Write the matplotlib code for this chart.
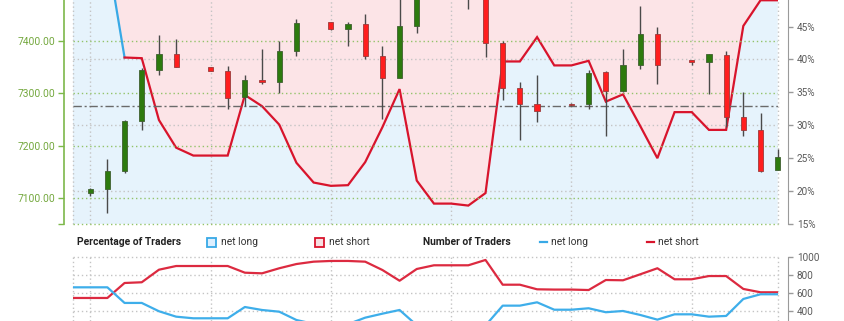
import matplotlib
matplotlib.use('Agg')
import matplotlib.pyplot as plt
from matplotlib.patches import Rectangle
from matplotlib.lines import Line2D
import numpy as np

plt.rcParams['font.family'] = ['Roboto', 'DejaVu Sans']

# ---------------- data ----------------
n_bars = 42
opens  = [None, 7110, 7118, 7151, 7247, 7344, 7375, None, 7349, 7343,
          7293, 7325, 7322, 7380, None, 7435, 7422, 7431, 7370, 7329,
          7428, None, 7505, 7530, 7505, 7396, 7309, 7280, None, 7279,
          7279, 7340, 7304, 7354, 7413, None, 7363, 7359, 7373, 7255,
          7230, 7153]
highs  = [None, 7119, 7174, 7249, 7348, 7410, 7403, None, 7350, 7352,
          7335, 7384, 7399, 7441, None, 7436, 7436, 7451, 7389, 7495,
          7520, None, 7545, 7550, 7515, 7400, 7321, 7335, None, 7281,
          7344, 7343, 7384, 7466, 7427, None, 7364, 7374, 7381, 7302,
          7263, 7194]
lows   = [None, 7104, 7071, 7148, 7230, 7335, 7349, None, 7342, 7269,
          7276, 7317, 7300, 7371, None, 7421, 7390, 7365, 7251, 7328,
          7415, None, 7490, 7460, 7368, 7286, 7211, 7244, None, 7276,
          7269, 7219, 7303, 7346, 7317, None, 7354, 7298, 7235, 7218,
          7149, 7153]
closes = [None, 7118, 7152, 7247, 7344, 7375, 7350, None, 7343, 7291,
          7325, 7322, 7380, 7433, None, 7422, 7431, 7370, 7329, 7428,
          7505, None, 7530, 7510, 7396, 7309, 7279, 7265, None, 7277,
          7339, 7305, 7354, 7413, 7354, None, 7359, 7374, 7255, 7230,
          7152, 7179]

net_long_pct = [56.0, 56.0, 56.0, 40.3, 40.2, 30.8, 26.6, 25.4, 25.4, 25.4,
                34.6, 32.9, 30.1, 24.3, 21.3, 20.8, 20.9, 24.4, 29.7, 35.5,
                21.6, 18.1, 18.1, 17.8, 19.7, 39.7, 39.7, 43.4, 39.1, 39.1,
                39.8, 33.6, 34.7, 29.9, 25.0, 32.0, 32.0, 29.3, 29.3, 45.1,
                49.0, 49.0]

traders_short = [544, 544, 544, 710, 718, 857, 898, 898, 898, 898,
                 824, 817, 873, 920, 946, 954, 954, 946, 854, 735,
                 865, 906, 906, 906, 965, 691, 691, 640, 637, 637,
                 632, 743, 740, 806, 873, 751, 751, 787, 787, 644,
                 607, 607]
traders_long = [662, 662, 662, 489, 489, 397, 337, 319, 319, 319,
                444, 411, 392, 300, 257, 252, 254, 326, 370, 411,
                242, 200, 200, 196, 239, 459, 459, 496, 414, 414,
                430, 386, 400, 356, 304, 363, 363, 337, 345, 533,
                585, 585]

price_ticks = [7100, 7200, 7300, 7400]
pct_ticks = [15, 20, 25, 30, 35, 40, 45]
count_ticks = [400, 600, 800, 1000]
ref_price = 7275

# ---------------- styling ----------------
W, H = 845, 321
GREEN_TXT = '#74a83e'
GREEN_AX = '#7db84a'
GREEN_GRID = '#93c36a'
GRAY_GRID = '#c4c4c4'
GRAY_AX = '#9a9a9a'
GRAY_TXT = '#5a5a5a'
RED = '#d8142c'
BLUE = '#38a9e6'
PINK_FILL = '#fce4e7'
BLUE_FILL = '#e6f3fc'
UP = '#2d7a0e'
UP_EDGE = '#3f5f30'
DOWN = '#ff1e1e'
DOWN_EDGE = '#9c3a3a'
DOT = (0, (1, 2))

fig = plt.figure(figsize=(W / 100, H / 100), dpi=100)

left_px, right_px = 73, 777.7
top_bottom_px = 224
axS = fig.add_axes([left_px / W, 1 - top_bottom_px / H,
                    (right_px - left_px) / W, top_bottom_px / H])
axC = axS.twinx()

x = np.arange(n_bars)
pct = np.array(net_long_pct)
ylo, yhi = 15, 49.04

# sentiment fill
axS.fill_between(x, pct, 100, color=PINK_FILL, lw=0, zorder=1)
axS.fill_between(x, 0, pct, color=BLUE_FILL, lw=0, zorder=1)

# gridlines
for g in [20, 30, 40]:
    axS.axhline(g, color=GRAY_GRID, lw=1, ls=DOT, zorder=1.5)
for gx in list(np.arange(1, n_bars, 7)) + [0, n_bars - 1]:
    axS.axvline(gx, color=GRAY_GRID, lw=1, ls=DOT, zorder=1.5, clip_on=False)

# sentiment line: blue while net long is majority at segment start
axS.plot(x[:4], pct[:4], color=BLUE, lw=1.6, zorder=3, solid_joinstyle='miter')
axS.plot(x[3:], pct[3:], color=RED, lw=1.6, zorder=3, solid_joinstyle='miter')

axS.set_xlim(0, n_bars - 1)
axS.set_ylim(ylo, yhi)

# price axis (twin, drawn above)
axC.set_ylim(7050.4, 7477.6)
axC.patch.set_visible(False)
for p in price_ticks:
    axC.axhline(p, color=GREEN_GRID, lw=1, ls=DOT, zorder=1)
axC.axhline(7050.4, color=GREEN_GRID, lw=1, ls=DOT, zorder=1, clip_on=False)
axC.axhline(ref_price, color='#6a6a6a', lw=1, ls=(0, (6, 2, 1.5, 2)), zorder=2)

bw = 0.30
for i in range(n_bars):
    o, h, l, c = opens[i], highs[i], lows[i], closes[i]
    if o is None:
        continue
    up = c >= o
    axC.vlines(i, l, h, color='#4a4a4a', lw=1, zorder=3, clip_on=False)
    body = max(abs(c - o), 1.2)
    axC.bar(i, body, bottom=min(o, c), width=bw,
            color=UP if up else DOWN, edgecolor=UP_EDGE if up else DOWN_EDGE,
            linewidth=0.6, zorder=4, clip_on=False)

# axes styling
for sp in axS.spines.values():
    sp.set_visible(False)
for sp in axC.spines.values():
    sp.set_visible(False)
axS.spines['right'].set_visible(True)
axS.spines['right'].set_position(('outward', 7.2))
axS.spines['right'].set_color(GRAY_AX)
axS.yaxis.tick_right()
axS.set_yticks(pct_ticks)
axS.set_yticklabels([f'{t}%' for t in pct_ticks])
axS.tick_params(axis='y', colors=GRAY_AX, labelcolor=GRAY_TXT, length=3.5,
                width=1, pad=3, labelsize=7.2)
axS.set_xticks([])

axC.spines['left'].set_visible(True)
axC.spines['left'].set_position(('outward', 6.5))
axC.spines['left'].set_color(GREEN_AX)
axC.spines['left'].set_linewidth(1.2)
axC.yaxis.tick_left()
axC.set_yticks(price_ticks)
axC.set_yticklabels([f'{t:.2f}' for t in price_ticks])
axC.set_yticks([7050.4], minor=True)
axC.tick_params(axis='y', which='both', colors=GREEN_AX, labelcolor=GREEN_TXT,
                length=4, width=1, pad=2.5, labelsize=7.4)
axC.set_xticks([])

# ---------------- bottom panel ----------------
bot_top_px = 256.8
axB = fig.add_axes([left_px / W, 0, (right_px - left_px) / W, 1 - bot_top_px / H])
axB.set_xlim(0, n_bars - 1)
axB.set_ylim(289, 1000)
for g in count_ticks:
    axB.axhline(g, color=GRAY_GRID, lw=1, ls=DOT, zorder=1, clip_on=False)
for gx in list(np.arange(1, n_bars, 7)) + [0, n_bars - 1]:
    axB.axvline(gx, color=GRAY_GRID, lw=1, ls=DOT, zorder=1, clip_on=False)
axB.plot(x, traders_short, color='#dc2a40', lw=1.6, zorder=3)
axB.plot(x, traders_long, color='#3eaeea', lw=1.6, zorder=3)
for sp in axB.spines.values():
    sp.set_visible(False)
axB.spines['right'].set_visible(True)
axB.spines['right'].set_position(('outward', 7.2))
axB.spines['right'].set_color(GRAY_AX)
axB.yaxis.tick_right()
axB.set_yticks(count_ticks)
axB.set_yticklabels([str(t) for t in count_ticks])
axB.tick_params(axis='y', colors=GRAY_AX, labelcolor=GRAY_TXT, length=3.5,
                width=1, pad=3, labelsize=7.2)
axB.set_xticks([])

# ---------------- legend row ----------------
base_y = 1 - 245 / H
fs = 7.4
fig.text(77 / W, base_y, 'Percentage of Traders', fontsize=fs, fontweight='bold',
         color='#222222', va='baseline')
fig.patches.append(Rectangle((207 / W, 1 - 246.5 / H), 9 / W, 9 / H,
                             transform=fig.transFigure, facecolor='#dcefff',
                             edgecolor=BLUE, lw=1.3))
fig.text(221 / W, base_y, 'net long', fontsize=fs, color='#333333', va='baseline')
fig.patches.append(Rectangle((315 / W, 1 - 246.5 / H), 9 / W, 9 / H,
                             transform=fig.transFigure, facecolor='#f7dfe2',
                             edgecolor=RED, lw=1.3))
fig.text(329 / W, base_y, 'net short', fontsize=fs, color='#333333', va='baseline')
fig.text(423 / W, base_y, 'Number of Traders', fontsize=fs, fontweight='bold',
         color='#222222', va='baseline')
ly = 1 - 242 / H
fig.lines.append(Line2D([540 / W, 547 / W], [ly, ly], transform=fig.transFigure,
                        color=BLUE, lw=1.6))
fig.text(551 / W, base_y, 'net long', fontsize=fs, color='#333333', va='baseline')
fig.lines.append(Line2D([647 / W, 654 / W], [ly, ly], transform=fig.transFigure,
                        color=RED, lw=1.6))
fig.text(658 / W, base_y, 'net short', fontsize=fs, color='#333333', va='baseline')

fig.savefig('out.png', dpi=100)
